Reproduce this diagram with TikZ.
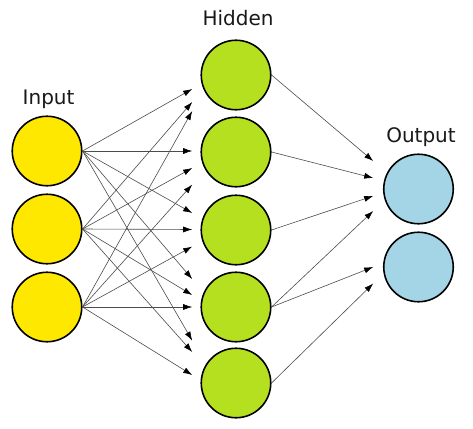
\documentclass[tikz,border=0pt]{standalone}
\usepackage{fontspec}
\setmainfont{DejaVu Sans}
\usetikzlibrary{arrows.meta}
\definecolor{inY}{RGB}{255,232,0}
\definecolor{hidG}{RGB}{180,224,32}
\definecolor{outB}{RGB}{163,213,231}
\begin{document}
\begin{tikzpicture}[x=1pt,y=-1pt,
  neuron/.style={circle,draw=black,line width=1.6pt,minimum size=69.5pt,inner sep=0pt},
  inneuron/.style={neuron,fill=inY},
  hidneuron/.style={neuron,fill=hidG},
  outneuron/.style={neuron,fill=outB},
  conn/.style={draw=black!70,line width=0.6pt,-{Latex[length=9pt,width=6pt,color=black]}},
  lbl/.style={font=\fontsize{20}{24}\selectfont,anchor=base,text=black!90}]
\useasboundingbox[fill=white] (0,0) rectangle (473,428);
\node[inneuron] (i1) at (47,151) {};
\node[inneuron] (i2) at (47,229) {};
\node[inneuron] (i3) at (47,307) {};
\node[hidneuron] (h1) at (236,75) {};
\node[hidneuron] (h2) at (236,152) {};
\node[hidneuron] (h3) at (236,230) {};
\node[hidneuron] (h4) at (236,307) {};
\node[hidneuron] (h5) at (236,383) {};
\node[outneuron] (o1) at (418.5,189) {};
\node[outneuron] (o2) at (418.5,267) {};
\node[lbl] (lin) at (48.6,104) {Input};
\node[lbl] (lhid) at (238,26) {Hidden};
\node[lbl] (lout) at (421,142.6) {Output};
\foreach \s/\t/\d in {i1/h1/14,i2/h1/27,i3/h1/36,
                      i1/h2/-1,i2/h2/16,i3/h2/32.6,
                      i1/h3/-17,i2/h3/-0.5,i3/h3/16.6,
                      i1/h4/-28,i2/h4/-12,i3/h4/0,
                      i1/h5/-42.4,i2/h5/-31,i3/h5/-8}
  \draw[conn] (\s.east) -- ([xshift=-8.25pt,yshift={-1pt*(\d)}]\t.west);
\foreach \s/\t/\d in {h1/o1/-28,h2/o1/-11,h3/o1/7,h4/o1/22,h4/o2/0,h5/o2/16.5}
  \draw[conn] (\s.east) -- ([xshift=-9.75pt,yshift={-1pt*(\d)}]\t.west);
\end{tikzpicture}
\end{document}
